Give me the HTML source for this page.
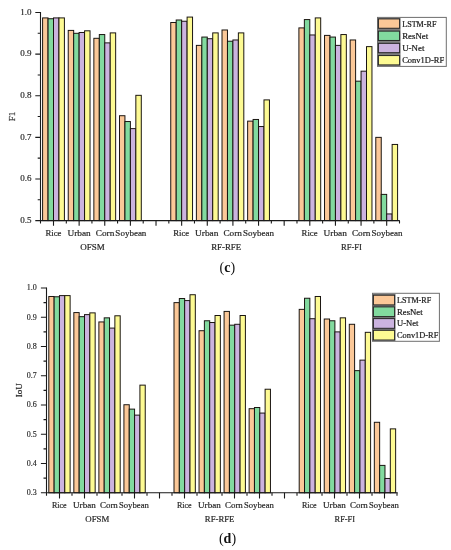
<!DOCTYPE html>
<html lang="en">
<head>
<meta charset="utf-8">
<title>Figure (c) F1 and (d) IoU</title>
<style>
html,body{margin:0;padding:0;background:#fff;}
body{width:451px;height:550px;overflow:hidden;}
svg{display:block;}
text{font-family:"Liberation Serif","DejaVu Serif",serif;fill:#262626;}
.t{font-size:7.8px;stroke:#262626;stroke-width:0.15px;}
.x{font-size:8.4px;stroke:#262626;stroke-width:0.18px;}
.l{font-size:8.2px;fill:#1c1c1c;stroke:#1c1c1c;stroke-width:0.22px;}
.yt{font-size:9px;stroke:#262626;stroke-width:0.2px;}
.cap{font-size:14px;fill:#111;}
</style>
</head>
<body>
<svg width="451" height="550" viewBox="0 0 451 550">
<rect width="451" height="550" fill="#ffffff"/>
<g id="chart-c">
<rect x="42.6" y="17.91" width="5.45" height="202.69" fill="#FBC898" stroke="#17120e" stroke-width="0.98"/>
<rect x="48.05" y="18.74" width="5.45" height="201.86" fill="#82DA9F" stroke="#17120e" stroke-width="0.98"/>
<rect x="53.5" y="17.91" width="5.45" height="202.69" fill="#CBB3DF" stroke="#17120e" stroke-width="0.98"/>
<rect x="58.95" y="17.91" width="5.45" height="202.69" fill="#FDFA93" stroke="#17120e" stroke-width="0.98"/>
<rect x="68.23" y="30.4" width="5.45" height="190.2" fill="#FBC898" stroke="#17120e" stroke-width="0.98"/>
<rect x="73.68" y="33.31" width="5.45" height="187.29" fill="#82DA9F" stroke="#17120e" stroke-width="0.98"/>
<rect x="79.13" y="32.48" width="5.45" height="188.12" fill="#CBB3DF" stroke="#17120e" stroke-width="0.98"/>
<rect x="84.58" y="30.81" width="5.45" height="189.79" fill="#FDFA93" stroke="#17120e" stroke-width="0.98"/>
<rect x="93.86" y="38.3" width="5.45" height="182.3" fill="#FBC898" stroke="#17120e" stroke-width="0.98"/>
<rect x="99.31" y="34.56" width="5.45" height="186.04" fill="#82DA9F" stroke="#17120e" stroke-width="0.98"/>
<rect x="104.76" y="42.88" width="5.45" height="177.72" fill="#CBB3DF" stroke="#17120e" stroke-width="0.98"/>
<rect x="110.21" y="32.89" width="5.45" height="187.71" fill="#FDFA93" stroke="#17120e" stroke-width="0.98"/>
<rect x="119.49" y="115.72" width="5.45" height="104.88" fill="#FBC898" stroke="#17120e" stroke-width="0.98"/>
<rect x="124.94" y="121.54" width="5.45" height="99.06" fill="#82DA9F" stroke="#17120e" stroke-width="0.98"/>
<rect x="130.39" y="128.62" width="5.45" height="91.98" fill="#CBB3DF" stroke="#17120e" stroke-width="0.98"/>
<rect x="135.84" y="95.32" width="5.45" height="125.28" fill="#FDFA93" stroke="#17120e" stroke-width="0.98"/>
<rect x="170.75" y="22.49" width="5.45" height="198.11" fill="#FBC898" stroke="#17120e" stroke-width="0.98"/>
<rect x="176.2" y="19.99" width="5.45" height="200.61" fill="#82DA9F" stroke="#17120e" stroke-width="0.98"/>
<rect x="181.65" y="21.24" width="5.45" height="199.36" fill="#CBB3DF" stroke="#17120e" stroke-width="0.98"/>
<rect x="187.1" y="17.08" width="5.45" height="203.52" fill="#FDFA93" stroke="#17120e" stroke-width="0.98"/>
<rect x="196.38" y="45.38" width="5.45" height="175.22" fill="#FBC898" stroke="#17120e" stroke-width="0.98"/>
<rect x="201.83" y="37.06" width="5.45" height="183.54" fill="#82DA9F" stroke="#17120e" stroke-width="0.98"/>
<rect x="207.28" y="38.72" width="5.45" height="181.88" fill="#CBB3DF" stroke="#17120e" stroke-width="0.98"/>
<rect x="212.73" y="32.89" width="5.45" height="187.71" fill="#FDFA93" stroke="#17120e" stroke-width="0.98"/>
<rect x="222.01" y="29.98" width="5.45" height="190.62" fill="#FBC898" stroke="#17120e" stroke-width="0.98"/>
<rect x="227.46" y="41.22" width="5.45" height="179.38" fill="#82DA9F" stroke="#17120e" stroke-width="0.98"/>
<rect x="232.91" y="39.97" width="5.45" height="180.63" fill="#CBB3DF" stroke="#17120e" stroke-width="0.98"/>
<rect x="238.36" y="32.89" width="5.45" height="187.71" fill="#FDFA93" stroke="#17120e" stroke-width="0.98"/>
<rect x="247.64" y="121.13" width="5.45" height="99.47" fill="#FBC898" stroke="#17120e" stroke-width="0.98"/>
<rect x="253.09" y="119.46" width="5.45" height="101.14" fill="#82DA9F" stroke="#17120e" stroke-width="0.98"/>
<rect x="258.54" y="126.54" width="5.45" height="94.06" fill="#CBB3DF" stroke="#17120e" stroke-width="0.98"/>
<rect x="263.99" y="99.9" width="5.45" height="120.7" fill="#FDFA93" stroke="#17120e" stroke-width="0.98"/>
<rect x="298.9" y="27.9" width="5.45" height="192.7" fill="#FBC898" stroke="#17120e" stroke-width="0.98"/>
<rect x="304.35" y="19.58" width="5.45" height="201.02" fill="#82DA9F" stroke="#17120e" stroke-width="0.98"/>
<rect x="309.8" y="34.97" width="5.45" height="185.63" fill="#CBB3DF" stroke="#17120e" stroke-width="0.98"/>
<rect x="315.25" y="17.91" width="5.45" height="202.69" fill="#FDFA93" stroke="#17120e" stroke-width="0.98"/>
<rect x="324.53" y="35.39" width="5.45" height="185.21" fill="#FBC898" stroke="#17120e" stroke-width="0.98"/>
<rect x="329.98" y="37.06" width="5.45" height="183.54" fill="#82DA9F" stroke="#17120e" stroke-width="0.98"/>
<rect x="335.43" y="45.38" width="5.45" height="175.22" fill="#CBB3DF" stroke="#17120e" stroke-width="0.98"/>
<rect x="340.88" y="34.56" width="5.45" height="186.04" fill="#FDFA93" stroke="#17120e" stroke-width="0.98"/>
<rect x="350.16" y="39.97" width="5.45" height="180.63" fill="#FBC898" stroke="#17120e" stroke-width="0.98"/>
<rect x="355.61" y="81.17" width="5.45" height="139.43" fill="#82DA9F" stroke="#17120e" stroke-width="0.98"/>
<rect x="361.06" y="71.18" width="5.45" height="149.42" fill="#CBB3DF" stroke="#17120e" stroke-width="0.98"/>
<rect x="366.51" y="46.63" width="5.45" height="173.97" fill="#FDFA93" stroke="#17120e" stroke-width="0.98"/>
<rect x="375.79" y="137.36" width="5.45" height="83.24" fill="#FBC898" stroke="#17120e" stroke-width="0.98"/>
<rect x="381.24" y="194.38" width="5.45" height="26.22" fill="#82DA9F" stroke="#17120e" stroke-width="0.98"/>
<rect x="386.69" y="213.94" width="5.45" height="6.66" fill="#CBB3DF" stroke="#17120e" stroke-width="0.98"/>
<rect x="392.14" y="144.44" width="5.45" height="76.16" fill="#FDFA93" stroke="#17120e" stroke-width="0.98"/>
<path d="M40.5 12V223.4M40 220.6H399.7" stroke="#1a1a1a" stroke-width="1.1" fill="none"/>
<path d="M40.5 220.6h-5.2M40.5 199.79h-2.8M40.5 178.98h-5.2M40.5 158.17h-2.8M40.5 137.36h-5.2M40.5 116.55h-2.8M40.5 95.74h-5.2M40.5 74.93h-2.8M40.5 54.12h-5.2M40.5 33.31h-2.8M40.5 12.5h-5.2M53.5 220.6v5.2M66.31 220.6v2.8M79.13 220.6v5.2M91.94 220.6v2.8M104.76 220.6v5.2M117.57 220.6v2.8M130.39 220.6v5.2M143.2 220.6v2.8M156.02 220.6v5.2M168.83 220.6v2.8M181.65 220.6v5.2M194.47 220.6v2.8M207.28 220.6v5.2M220.09 220.6v2.8M232.91 220.6v5.2M245.72 220.6v2.8M258.54 220.6v5.2M271.35 220.6v2.8M284.17 220.6v5.2M296.98 220.6v2.8M309.8 220.6v5.2M322.62 220.6v2.8M335.43 220.6v5.2M348.25 220.6v2.8M361.06 220.6v5.2M373.88 220.6v2.8M386.69 220.6v5.2M399.5 220.6v2.8" stroke="#1a1a1a" stroke-width="1.1" fill="none"/>
<text x="31.5" y="222.9" text-anchor="end" class="t" textLength="11.3" lengthAdjust="spacingAndGlyphs">0.5</text>
<text x="31.5" y="181.28" text-anchor="end" class="t" textLength="11.3" lengthAdjust="spacingAndGlyphs">0.6</text>
<text x="31.5" y="139.66" text-anchor="end" class="t" textLength="11.3" lengthAdjust="spacingAndGlyphs">0.7</text>
<text x="31.5" y="98.04" text-anchor="end" class="t" textLength="11.3" lengthAdjust="spacingAndGlyphs">0.8</text>
<text x="31.5" y="56.42" text-anchor="end" class="t" textLength="11.3" lengthAdjust="spacingAndGlyphs">0.9</text>
<text x="31.5" y="14.8" text-anchor="end" class="t" textLength="11.3" lengthAdjust="spacingAndGlyphs">1.0</text>
<text x="53.5" y="236" text-anchor="middle" class="x" textLength="16.0" lengthAdjust="spacingAndGlyphs">Rice</text>
<text x="79.13" y="236" text-anchor="middle" class="x" textLength="23.3" lengthAdjust="spacingAndGlyphs">Urban</text>
<text x="105.06" y="236" text-anchor="middle" class="x" textLength="18.5" lengthAdjust="spacingAndGlyphs">Corn</text>
<text x="130.89" y="236" text-anchor="middle" class="x" textLength="31.0" lengthAdjust="spacingAndGlyphs">Soybean</text>
<text x="181.15" y="236" text-anchor="middle" class="x" textLength="16.0" lengthAdjust="spacingAndGlyphs">Rice</text>
<text x="206.78" y="236" text-anchor="middle" class="x" textLength="23.3" lengthAdjust="spacingAndGlyphs">Urban</text>
<text x="232.71" y="236" text-anchor="middle" class="x" textLength="18.5" lengthAdjust="spacingAndGlyphs">Corn</text>
<text x="258.54" y="236" text-anchor="middle" class="x" textLength="31.0" lengthAdjust="spacingAndGlyphs">Soybean</text>
<text x="309.6" y="236" text-anchor="middle" class="x" textLength="16.0" lengthAdjust="spacingAndGlyphs">Rice</text>
<text x="335.23" y="236" text-anchor="middle" class="x" textLength="23.3" lengthAdjust="spacingAndGlyphs">Urban</text>
<text x="361.16" y="236" text-anchor="middle" class="x" textLength="18.5" lengthAdjust="spacingAndGlyphs">Corn</text>
<text x="386.99" y="236" text-anchor="middle" class="x" textLength="31.0" lengthAdjust="spacingAndGlyphs">Soybean</text>
<text x="92.54" y="250" text-anchor="middle" class="x" textLength="24.5" lengthAdjust="spacingAndGlyphs">OFSM</text>
<text x="226.19" y="250" text-anchor="middle" class="x" textLength="30" lengthAdjust="spacingAndGlyphs">RF-RFE</text>
<text x="351.44" y="250" text-anchor="middle" class="x" textLength="21" lengthAdjust="spacingAndGlyphs">RF-FI</text>
<text transform="translate(14.6 116.6) rotate(-90)" text-anchor="middle" class="yt">F1</text>
<rect x="377.5" y="17.4" width="68.8" height="49" fill="#fff" stroke="#6e6e6e" stroke-width="1"/>
<rect x="378" y="17.9" width="22.5" height="48" fill="#7d7d7d"/>
<rect x="378.4" y="18.9" width="21.2" height="9.35" fill="#FBC898" stroke="#262626" stroke-width="1"/>
<text x="402.2" y="27.2" class="l" textLength="34.2" lengthAdjust="spacingAndGlyphs">LSTM-RF</text>
<rect x="378.4" y="31.12" width="21.2" height="9.35" fill="#82DA9F" stroke="#262626" stroke-width="1"/>
<text x="402.2" y="39.1" class="l" textLength="26.0" lengthAdjust="spacingAndGlyphs">ResNet</text>
<rect x="378.4" y="43.34" width="21.2" height="9.35" fill="#CBB3DF" stroke="#262626" stroke-width="1"/>
<text x="402.2" y="51" class="l" textLength="22.2" lengthAdjust="spacingAndGlyphs">U-Net</text>
<rect x="378.4" y="55.56" width="21.2" height="9.35" fill="#FDFA93" stroke="#262626" stroke-width="1"/>
<text x="402.2" y="62.9" class="l" textLength="42.0" lengthAdjust="spacingAndGlyphs">Conv1D-RF</text>
<text x="227.3" y="272.2" text-anchor="middle" class="cap">(<tspan font-weight="bold">c</tspan>)</text>
</g>
<g id="chart-d">
<rect x="48.8" y="296.48" width="5.33" height="196.32" fill="#FBC898" stroke="#17120e" stroke-width="0.98"/>
<rect x="54.13" y="296.78" width="5.33" height="196.02" fill="#82DA9F" stroke="#17120e" stroke-width="0.98"/>
<rect x="59.46" y="295.61" width="5.33" height="197.19" fill="#CBB3DF" stroke="#17120e" stroke-width="0.98"/>
<rect x="64.79" y="295.61" width="5.33" height="197.19" fill="#FDFA93" stroke="#17120e" stroke-width="0.98"/>
<rect x="73.84" y="312.58" width="5.33" height="180.22" fill="#FBC898" stroke="#17120e" stroke-width="0.98"/>
<rect x="79.17" y="316.67" width="5.33" height="176.13" fill="#82DA9F" stroke="#17120e" stroke-width="0.98"/>
<rect x="84.5" y="314.62" width="5.33" height="178.18" fill="#CBB3DF" stroke="#17120e" stroke-width="0.98"/>
<rect x="89.83" y="312.87" width="5.33" height="179.93" fill="#FDFA93" stroke="#17120e" stroke-width="0.98"/>
<rect x="98.88" y="321.94" width="5.33" height="170.86" fill="#FBC898" stroke="#17120e" stroke-width="0.98"/>
<rect x="104.21" y="317.84" width="5.33" height="174.96" fill="#82DA9F" stroke="#17120e" stroke-width="0.98"/>
<rect x="109.54" y="328.08" width="5.33" height="164.72" fill="#CBB3DF" stroke="#17120e" stroke-width="0.98"/>
<rect x="114.87" y="315.79" width="5.33" height="177.01" fill="#FDFA93" stroke="#17120e" stroke-width="0.98"/>
<rect x="123.92" y="404.74" width="5.33" height="88.06" fill="#FBC898" stroke="#17120e" stroke-width="0.98"/>
<rect x="129.25" y="409.12" width="5.33" height="83.68" fill="#82DA9F" stroke="#17120e" stroke-width="0.98"/>
<rect x="134.58" y="415.12" width="5.33" height="77.68" fill="#CBB3DF" stroke="#17120e" stroke-width="0.98"/>
<rect x="139.91" y="385.13" width="5.33" height="107.67" fill="#FDFA93" stroke="#17120e" stroke-width="0.98"/>
<rect x="174" y="302.63" width="5.33" height="190.17" fill="#FBC898" stroke="#17120e" stroke-width="0.98"/>
<rect x="179.33" y="298.53" width="5.33" height="194.27" fill="#82DA9F" stroke="#17120e" stroke-width="0.98"/>
<rect x="184.66" y="300.58" width="5.33" height="192.22" fill="#CBB3DF" stroke="#17120e" stroke-width="0.98"/>
<rect x="189.99" y="294.73" width="5.33" height="198.07" fill="#FDFA93" stroke="#17120e" stroke-width="0.98"/>
<rect x="199.04" y="330.72" width="5.33" height="162.08" fill="#FBC898" stroke="#17120e" stroke-width="0.98"/>
<rect x="204.37" y="320.77" width="5.33" height="172.03" fill="#82DA9F" stroke="#17120e" stroke-width="0.98"/>
<rect x="209.7" y="322.52" width="5.33" height="170.28" fill="#CBB3DF" stroke="#17120e" stroke-width="0.98"/>
<rect x="215.03" y="315.5" width="5.33" height="177.3" fill="#FDFA93" stroke="#17120e" stroke-width="0.98"/>
<rect x="224.08" y="311.41" width="5.33" height="181.39" fill="#FBC898" stroke="#17120e" stroke-width="0.98"/>
<rect x="229.41" y="325.16" width="5.33" height="167.64" fill="#82DA9F" stroke="#17120e" stroke-width="0.98"/>
<rect x="234.74" y="324.28" width="5.33" height="168.52" fill="#CBB3DF" stroke="#17120e" stroke-width="0.98"/>
<rect x="240.07" y="315.5" width="5.33" height="177.3" fill="#FDFA93" stroke="#17120e" stroke-width="0.98"/>
<rect x="249.12" y="408.69" width="5.33" height="84.11" fill="#FBC898" stroke="#17120e" stroke-width="0.98"/>
<rect x="254.45" y="407.52" width="5.33" height="85.28" fill="#82DA9F" stroke="#17120e" stroke-width="0.98"/>
<rect x="259.78" y="413.07" width="5.33" height="79.73" fill="#CBB3DF" stroke="#17120e" stroke-width="0.98"/>
<rect x="265.11" y="389.23" width="5.33" height="103.57" fill="#FDFA93" stroke="#17120e" stroke-width="0.98"/>
<rect x="299.2" y="309.36" width="5.33" height="183.44" fill="#FBC898" stroke="#17120e" stroke-width="0.98"/>
<rect x="304.53" y="298.24" width="5.33" height="194.56" fill="#82DA9F" stroke="#17120e" stroke-width="0.98"/>
<rect x="309.86" y="318.72" width="5.33" height="174.08" fill="#CBB3DF" stroke="#17120e" stroke-width="0.98"/>
<rect x="315.19" y="296.48" width="5.33" height="196.32" fill="#FDFA93" stroke="#17120e" stroke-width="0.98"/>
<rect x="324.24" y="319.01" width="5.33" height="173.79" fill="#FBC898" stroke="#17120e" stroke-width="0.98"/>
<rect x="329.57" y="320.77" width="5.33" height="172.03" fill="#82DA9F" stroke="#17120e" stroke-width="0.98"/>
<rect x="334.9" y="331.89" width="5.33" height="160.91" fill="#CBB3DF" stroke="#17120e" stroke-width="0.98"/>
<rect x="340.23" y="317.84" width="5.33" height="174.96" fill="#FDFA93" stroke="#17120e" stroke-width="0.98"/>
<rect x="349.28" y="324.28" width="5.33" height="168.52" fill="#FBC898" stroke="#17120e" stroke-width="0.98"/>
<rect x="354.61" y="370.65" width="5.33" height="122.15" fill="#82DA9F" stroke="#17120e" stroke-width="0.98"/>
<rect x="359.94" y="360.12" width="5.33" height="132.68" fill="#CBB3DF" stroke="#17120e" stroke-width="0.98"/>
<rect x="365.27" y="332.32" width="5.33" height="160.48" fill="#FDFA93" stroke="#17120e" stroke-width="0.98"/>
<rect x="374.32" y="422.29" width="5.33" height="70.51" fill="#FBC898" stroke="#17120e" stroke-width="0.98"/>
<rect x="379.65" y="465.39" width="5.33" height="27.41" fill="#82DA9F" stroke="#17120e" stroke-width="0.98"/>
<rect x="384.98" y="478.46" width="5.33" height="14.34" fill="#CBB3DF" stroke="#17120e" stroke-width="0.98"/>
<rect x="390.31" y="428.87" width="5.33" height="63.93" fill="#FDFA93" stroke="#17120e" stroke-width="0.98"/>
<path d="M46.5 287.5V495.8M46 492.8H397.7" stroke="#1a1a1a" stroke-width="1.1" fill="none"/>
<path d="M46.5 492.8h-5.6M46.5 478.17h-3M46.5 463.54h-5.6M46.5 448.91h-3M46.5 434.29h-5.6M46.5 419.66h-3M46.5 405.03h-5.6M46.5 390.4h-3M46.5 375.77h-5.6M46.5 361.14h-3M46.5 346.51h-5.6M46.5 331.89h-3M46.5 317.26h-5.6M46.5 302.63h-3M46.5 288h-5.6M59.5 492.8v5.6M72 492.8v3M84.5 492.8v5.6M97 492.8v3M109.5 492.8v5.6M122 492.8v3M134.5 492.8v5.6M147 492.8v3M159.5 492.8v5.6M172 492.8v3M184.5 492.8v5.6M197 492.8v3M209.5 492.8v5.6M222 492.8v3M234.5 492.8v5.6M247 492.8v3M259.5 492.8v5.6M272 492.8v3M284.5 492.8v5.6M297 492.8v3M309.5 492.8v5.6M322 492.8v3M334.5 492.8v5.6M347 492.8v3M359.5 492.8v5.6M372 492.8v3M384.5 492.8v5.6M397 492.8v3" stroke="#1a1a1a" stroke-width="1.1" fill="none"/>
<text x="36.8" y="495.1" text-anchor="end" class="t" textLength="10.0" lengthAdjust="spacingAndGlyphs">0.3</text>
<text x="36.8" y="465.84" text-anchor="end" class="t" textLength="10.0" lengthAdjust="spacingAndGlyphs">0.4</text>
<text x="36.8" y="436.59" text-anchor="end" class="t" textLength="10.0" lengthAdjust="spacingAndGlyphs">0.5</text>
<text x="36.8" y="407.33" text-anchor="end" class="t" textLength="10.0" lengthAdjust="spacingAndGlyphs">0.6</text>
<text x="36.8" y="378.07" text-anchor="end" class="t" textLength="10.0" lengthAdjust="spacingAndGlyphs">0.7</text>
<text x="36.8" y="348.81" text-anchor="end" class="t" textLength="10.0" lengthAdjust="spacingAndGlyphs">0.8</text>
<text x="36.8" y="319.56" text-anchor="end" class="t" textLength="10.0" lengthAdjust="spacingAndGlyphs">0.9</text>
<text x="36.8" y="290.3" text-anchor="end" class="t" textLength="10.0" lengthAdjust="spacingAndGlyphs">1.0</text>
<text x="59.3" y="507.8" text-anchor="middle" class="x" textLength="14.8" lengthAdjust="spacingAndGlyphs">Rice</text>
<text x="84.4" y="507.8" text-anchor="middle" class="x" textLength="22.6" lengthAdjust="spacingAndGlyphs">Urban</text>
<text x="108.9" y="507.8" text-anchor="middle" class="x" textLength="17.9" lengthAdjust="spacingAndGlyphs">Corn</text>
<text x="133.9" y="507.8" text-anchor="middle" class="x" textLength="29.9" lengthAdjust="spacingAndGlyphs">Soybean</text>
<text x="184.3" y="507.8" text-anchor="middle" class="x" textLength="14.8" lengthAdjust="spacingAndGlyphs">Rice</text>
<text x="209.4" y="507.8" text-anchor="middle" class="x" textLength="22.6" lengthAdjust="spacingAndGlyphs">Urban</text>
<text x="233.9" y="507.8" text-anchor="middle" class="x" textLength="17.9" lengthAdjust="spacingAndGlyphs">Corn</text>
<text x="258.9" y="507.8" text-anchor="middle" class="x" textLength="29.9" lengthAdjust="spacingAndGlyphs">Soybean</text>
<text x="309.3" y="507.8" text-anchor="middle" class="x" textLength="14.8" lengthAdjust="spacingAndGlyphs">Rice</text>
<text x="334.4" y="507.8" text-anchor="middle" class="x" textLength="22.6" lengthAdjust="spacingAndGlyphs">Urban</text>
<text x="358.9" y="507.8" text-anchor="middle" class="x" textLength="17.9" lengthAdjust="spacingAndGlyphs">Corn</text>
<text x="383.9" y="507.8" text-anchor="middle" class="x" textLength="29.9" lengthAdjust="spacingAndGlyphs">Soybean</text>
<text x="97.3" y="522.4" text-anchor="middle" class="x" textLength="24" lengthAdjust="spacingAndGlyphs">OFSM</text>
<text x="219.6" y="522.4" text-anchor="middle" class="x" textLength="29.5" lengthAdjust="spacingAndGlyphs">RF-RFE</text>
<text x="344.8" y="522.4" text-anchor="middle" class="x" textLength="20.5" lengthAdjust="spacingAndGlyphs">RF-FI</text>
<text transform="translate(21.7 390.3) rotate(-90)" text-anchor="middle" class="yt">IoU</text>
<rect x="372.5" y="293.3" width="66.9" height="48" fill="#fff" stroke="#6e6e6e" stroke-width="1"/>
<rect x="373" y="293.8" width="22.5" height="47" fill="#7d7d7d"/>
<rect x="373.4" y="295.2" width="21.2" height="9.7" fill="#FBC898" stroke="#262626" stroke-width="1"/>
<text x="397" y="303.1" class="l" textLength="34.2" lengthAdjust="spacingAndGlyphs">LSTM-RF</text>
<rect x="373.4" y="306.9" width="21.2" height="9.7" fill="#82DA9F" stroke="#262626" stroke-width="1"/>
<text x="397" y="314.75" class="l" textLength="25.6" lengthAdjust="spacingAndGlyphs">ResNet</text>
<rect x="373.4" y="318.6" width="21.2" height="9.7" fill="#CBB3DF" stroke="#262626" stroke-width="1"/>
<text x="397" y="326.4" class="l" textLength="21.4" lengthAdjust="spacingAndGlyphs">U-Net</text>
<rect x="373.4" y="330.3" width="21.2" height="9.7" fill="#FDFA93" stroke="#262626" stroke-width="1"/>
<text x="397" y="338.05" class="l" textLength="41.3" lengthAdjust="spacingAndGlyphs">Conv1D-RF</text>
<text x="227.5" y="542.5" text-anchor="middle" class="cap">(<tspan font-weight="bold">d</tspan>)</text>
</g>
</svg>
</body>
</html>
